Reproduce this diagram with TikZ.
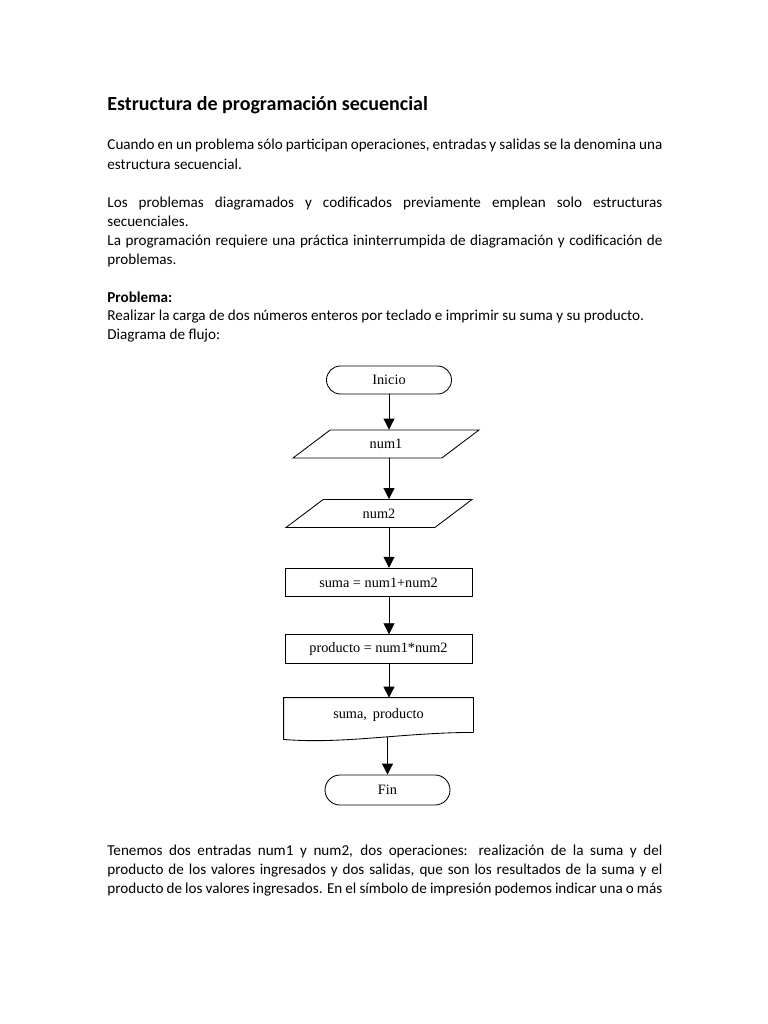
\documentclass[tikz,border=0pt]{standalone}
\usepackage{fontspec}
\setmainfont{Carlito}
\newfontfamily\flowfont{Liberation Serif}
\usetikzlibrary{arrows.meta,shapes.geometric}
\tikzset{
  bodytext/.style={anchor=base west, inner sep=0pt, font=\fontsize{10.6}{12.5}\selectfont},
  titletext/.style={anchor=base west, inner sep=0pt, font=\fontsize{14}{17}\selectfont\bfseries},
  flowtext/.style={font=\flowfont\fontsize{10}{12}\selectfont},
  termblock/.style={draw, flowtext, rectangle, rounded corners=9.8pt, minimum width=87.5pt, minimum height=19.6pt},
  ioblock/.style={draw, flowtext, trapezium, trapezium left angle=37, trapezium right angle=143, trapezium stretches body=true, text height=6.8pt, text depth=0pt, inner ysep=6.4pt, minimum width=130.2pt},
  procblock/.style={draw, flowtext, rectangle, minimum width=130.9pt, minimum height=20pt},
  docblock/.style={flowtext, rectangle, minimum width=132.3pt, minimum height=23.8pt},
  arrow/.style={-{Triangle[length=7.7pt, width=7.7pt]}, line width=0.6pt}
}
\newcommand{\jline}[1]{\makebox[388.5pt][s]{#1}}
\begin{document}
\begin{tikzpicture}[x=0.7pt, y=-0.7pt, line width=0.6pt]
  \fill[white] (0,0) rectangle (768,1024);
  \useasboundingbox (0,0) rectangle (768,1024);

  \node[titletext] (title) at (107,110) {Estructura de programación secuencial};
  \node[bodytext] (par1a) at (107,149) {\jline{Cuando en un problema sólo participan operaciones, entradas y salidas se la denomina una}};
  \node[bodytext] (par1b) at (107,169) {estructura secuencial.};
  \node[bodytext] (par2a) at (107,207) {\jline{Los problemas diagramados y codificados previamente emplean solo estructuras}};
  \node[bodytext] (par2b) at (107,226) {secuenciales.};
  \node[bodytext] (par3a) at (107,245) {\jline{La programación requiere una práctica ininterrumpida de diagramación y codificación de}};
  \node[bodytext] (par3b) at (107,264) {problemas.};
  \node[bodytext] (probhead) at (107,302) {\textbf{Problema:}};
  \node[bodytext] (probtext) at (107,320) {Realizar la carga de dos números enteros por teclado e imprimir su suma y su producto.};
  \node[bodytext] (diaghead) at (107,339) {Diagrama de flujo:};

  \node[termblock] (inicio) at (389,380) {Inicio};
  \node[ioblock] (num1) at (386,444) {num1};
  \node[ioblock] (num2) at (379,513.5) {num2};
  \node[procblock] (suma) at (378.5,582.5) {suma = num1+num2};
  \node[procblock] (producto) at (378.5,649) {producto = num1*num2};
  \node[docblock] (salida) at (378.5,715) {suma, \,producto};
  \node[termblock, minimum height=21pt, rounded corners=10.5pt] (fin) at (387.5,790) {Fin};

  \draw (salida.south east) -- (salida.north east) -- (salida.north west) -- ([shift={(0,7)}]salida.south west)
    .. controls ([shift={(60,12)}]salida.south west) and ([shift={(-70,0)}]salida.south east) .. (salida.south east);

  \draw[arrow] (inicio) -- (inicio |- num1.north);
  \draw[arrow] (num1.south -| inicio) -- (inicio |- num2.north);
  \draw[arrow] (num2.south -| inicio) -- (inicio |- suma.north);
  \draw[arrow] (suma.south -| inicio) -- (inicio |- producto.north);
  \draw[arrow] (producto.south -| inicio) -- (inicio |- salida.north);
  \draw[arrow] ([yshift=-3.5pt]salida.south -| fin.north) -- (fin);

  \node[bodytext] (coment1) at (107,855) {\jline{Tenemos dos entradas num1 y num2, dos operaciones: realización de la suma y del}};
  \node[bodytext] (coment2) at (107,874) {\jline{producto de los valores ingresados y dos salidas, que son los resultados de la suma y el}};
  \node[bodytext] (coment3) at (107,893) {\jline{producto de los valores ingresados. En el símbolo de impresión podemos indicar una o más}};
\end{tikzpicture}
\end{document}
